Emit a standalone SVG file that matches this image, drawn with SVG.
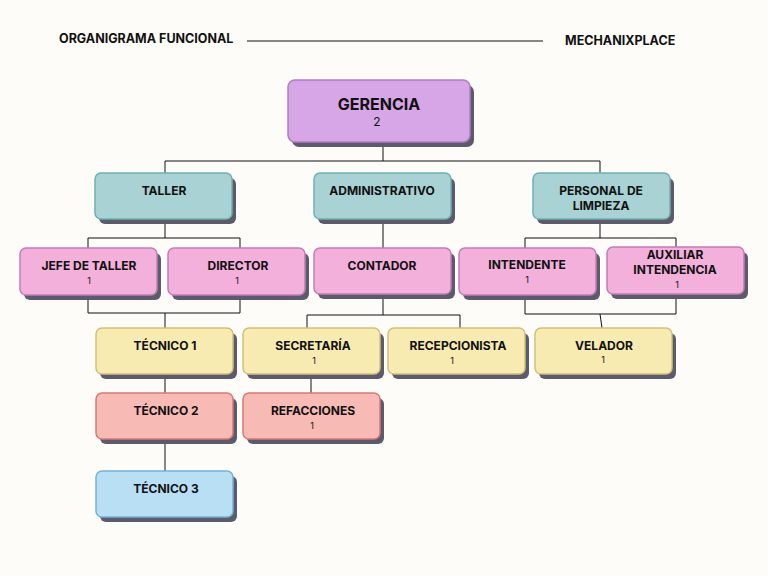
<svg xmlns="http://www.w3.org/2000/svg" width="768" height="576" viewBox="0 0 768 576">
<style>
text{font-family:Inter,"Noto Sans",sans-serif;fill:#111;text-anchor:middle}
.t{font-size:12px;font-weight:700}
.n{font-size:9px}
.sh{fill:#5b5b6b}
.b{stroke-width:1.5}
.c path{fill:none;stroke:#111;stroke-width:1}
.purple{fill:#d7a6e6;stroke:#b07cc6}
.teal{fill:#a9d2d4;stroke:#6fb0b3}
.pink{fill:#f2b0da;stroke:#c47cb8}
.yel{fill:#f8ebb2;stroke:#d2c07a}
.red{fill:#f8bab5;stroke:#d67a75}
.blue{fill:#b9dff5;stroke:#76b3d8}
</style>
<rect width="768" height="576" fill="#fdfcf8"/>
<g id="header">
<text x="59" y="43" class="t" style="text-anchor:start;font-size:12.5px">ORGANIGRAMA FUNCIONAL</text>
<path d="M247 41H543" stroke="#111" stroke-width="1"/>
<text x="565" y="45" class="t" style="text-anchor:start;font-size:12.5px">MECHANIXPLACE</text>
</g>
<g class="c">
<path d="M383 142V161M165 173V161H600V173"/>
<path d="M165 219V238M88 248V238H240V248"/>
<path d="M88 295V313H240V295M165 313V328"/>
<path d="M165 374V393M165 439V471"/>
<path d="M383 219V248M383 294V315M307 328V315H460V328M311 374V393"/>
<path d="M600 219V238M525 248V238H676V247"/>
<path d="M525 295V314H676V294M600 314L602 328"/>
</g>
<g id="gerencia"><rect x="292" y="85" width="182" height="62" rx="7" class="sh"/><rect x="288" y="80" width="182" height="62" rx="7" class="purple b"/><text x="379" y="110" class="t" style="font-size:16px">GERENCIA</text><text x="377" y="126" class="n" style="font-size:12px">2</text></g>
<g id="taller"><rect x="99" y="178" width="137" height="46" rx="6" class="sh"/><rect x="95" y="173" width="137" height="46" rx="6" class="teal b"/><text x="164" y="195" class="t">TALLER</text></g>
<g id="administrativo"><rect x="318" y="178" width="137" height="46" rx="6" class="sh"/><rect x="314" y="173" width="137" height="46" rx="6" class="teal b"/><text x="382" y="195" class="t">ADMINISTRATIVO</text></g>
<g id="limpieza"><rect x="537" y="178" width="137" height="46" rx="6" class="sh"/><rect x="533" y="173" width="137" height="46" rx="6" class="teal b"/><text x="601" y="195" class="t">PERSONAL DE</text><text x="601" y="210" class="t">LIMPIEZA</text></g>
<g id="jefe"><rect x="24" y="253" width="137" height="47" rx="6" class="sh"/><rect x="20" y="248" width="137" height="47" rx="6" class="pink b"/><text x="89" y="270" class="t">JEFE DE TALLER</text><text x="89" y="284" class="n">1</text></g>
<g id="director"><rect x="172" y="253" width="137" height="47" rx="6" class="sh"/><rect x="168" y="248" width="137" height="47" rx="6" class="pink b"/><text x="238" y="270" class="t">DIRECTOR</text><text x="237" y="284" class="n">1</text></g>
<g id="contador"><rect x="318" y="253" width="137" height="46" rx="6" class="sh"/><rect x="314" y="248" width="137" height="46" rx="6" class="pink b"/><text x="382" y="270" class="t">CONTADOR</text></g>
<g id="intendente"><rect x="463" y="253" width="137" height="47" rx="6" class="sh"/><rect x="459" y="248" width="137" height="47" rx="6" class="pink b"/><text x="527" y="269" class="t">INTENDENTE</text><text x="527" y="283" class="n">1</text></g>
<g id="auxiliar"><rect x="611" y="252" width="137" height="47" rx="6" class="sh"/><rect x="607" y="247" width="137" height="47" rx="6" class="pink b"/><text x="675" y="259" class="t">AUXILIAR</text><text x="675" y="274" class="t">INTENDENCIA</text><text x="677" y="288" class="n">1</text></g>
<g id="tecnico1"><rect x="100" y="333" width="137" height="46" rx="6" class="sh"/><rect x="96" y="328" width="137" height="46" rx="6" class="yel b"/><text x="165" y="350" class="t">TÉCNICO 1</text></g>
<g id="secretaria"><rect x="247" y="333" width="137" height="46" rx="6" class="sh"/><rect x="243" y="328" width="137" height="46" rx="6" class="yel b"/><text x="313" y="350" class="t">SECRETARÍA</text><text x="314" y="364" class="n">1</text></g>
<g id="recepcionista"><rect x="392" y="333" width="137" height="46" rx="6" class="sh"/><rect x="388" y="328" width="137" height="46" rx="6" class="yel b"/><text x="458" y="350" class="t">RECEPCIONISTA</text><text x="452" y="364" class="n">1</text></g>
<g id="velador"><rect x="539" y="333" width="137" height="46" rx="6" class="sh"/><rect x="535" y="328" width="137" height="46" rx="6" class="yel b"/><text x="604" y="350" class="t">VELADOR</text><text x="603" y="363" class="n">1</text></g>
<g id="tecnico2"><rect x="100" y="398" width="137" height="46" rx="6" class="sh"/><rect x="96" y="393" width="137" height="46" rx="6" class="red b"/><text x="166" y="415" class="t">TÉCNICO 2</text></g>
<g id="refacciones"><rect x="247" y="398" width="137" height="46" rx="6" class="sh"/><rect x="243" y="393" width="137" height="46" rx="6" class="red b"/><text x="313" y="415" class="t">REFACCIONES</text><text x="312" y="429" class="n">1</text></g>
<g id="tecnico3"><rect x="100" y="476" width="137" height="46" rx="6" class="sh"/><rect x="96" y="471" width="137" height="46" rx="6" class="blue b"/><text x="166" y="493" class="t">TÉCNICO 3</text></g>
</svg>
